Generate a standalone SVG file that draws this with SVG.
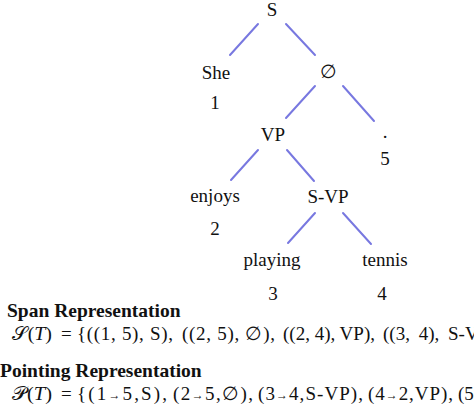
<svg xmlns="http://www.w3.org/2000/svg" width="474" height="408" viewBox="0 0 474 408">
<style>
.t{font-family:'Liberation Serif','DejaVu Serif',serif;font-size:19px;fill:#111;text-anchor:middle}
.h{font-family:'Liberation Serif','DejaVu Serif',serif;font-size:19.5px;font-weight:bold;fill:#111}
.m{font-family:'Liberation Serif','DejaVu Serif',serif;font-size:19px;fill:#111}
.a{font-size:12px}
.e{stroke:#7878e0;stroke-width:2;fill:none;stroke-linecap:round}
</style>
<rect width="474" height="408" fill="#fff"/>
<g id="edges">
<line class="e" x1="258" y1="24" x2="230" y2="55"/>
<line class="e" x1="286" y1="24" x2="315" y2="55"/>
<line class="e" x1="315" y1="86" x2="286" y2="118"/>
<line class="e" x1="343" y1="86" x2="374" y2="121"/>
<line class="e" x1="258" y1="150" x2="231" y2="180"/>
<line class="e" x1="287" y1="150" x2="314" y2="181"/>
<line class="e" x1="315" y1="213" x2="288" y2="243"/>
<line class="e" x1="343" y1="213" x2="371" y2="244"/>
</g>
<g id="n-S"><text class="t" x="272" y="16">S</text></g>
<g id="n-She"><text class="t" x="216" y="79">She</text><text class="t" x="215" y="109">1</text></g>
<g id="n-empty"><text class="t" x="328" y="78">∅</text></g>
<g id="n-VP"><text class="t" x="273" y="141">VP</text></g>
<g id="n-dot"><text class="t" x="385" y="138">.</text><text class="t" x="385" y="165">5</text></g>
<g id="n-enjoys"><text class="t" x="215" y="202">enjoys</text><text class="t" x="215" y="235">2</text></g>
<g id="n-SVP"><text class="t" x="328" y="203">S-VP</text></g>
<g id="n-playing"><text class="t" x="272" y="266">playing</text><text class="t" x="273" y="300">3</text></g>
<g id="n-tennis"><text class="t" x="385" y="266">tennis</text><text class="t" x="382" y="300">4</text></g>
<g id="span">
<text class="h" x="7" y="317">Span Representation</text>
<text class="m" x="12" y="340" textLength="40" lengthAdjust="spacingAndGlyphs">𝒮(<tspan font-style="italic">T</tspan>)</text>
<text class="m" x="61" y="340">=</text>
<text class="m" x="77" y="340" textLength="96" lengthAdjust="spacing">{((1, 5), S),</text>
<text class="m" x="182" y="340" textLength="93" lengthAdjust="spacing">((2, 5), ∅),</text>
<text class="m" x="283" y="340" textLength="92" lengthAdjust="spacing">((2, 4), VP),</text>
<text class="m" x="383" y="340" word-spacing="4">((3, 4), S-VP),</text>
</g>
<g id="pointing">
<text class="h" x="0" y="377">Pointing Representation</text>
<text class="m" x="12" y="400" textLength="40" lengthAdjust="spacingAndGlyphs">𝒫(<tspan font-style="italic">T</tspan>)</text>
<text class="m" x="61" y="400">=</text>
<text class="m" x="77" y="400" textLength="90" lengthAdjust="spacing">{(1<tspan class="a" dy="-1">→</tspan><tspan dy="1">5,S),</tspan></text>
<text class="m" x="173" y="400" textLength="80" lengthAdjust="spacing">(2<tspan class="a" dy="-1">→</tspan><tspan dy="1">5,∅),</tspan></text>
<text class="m" x="258" y="400" textLength="105" lengthAdjust="spacing">(3<tspan class="a" dy="-1">→</tspan><tspan dy="1">4,S-VP),</tspan></text>
<text class="m" x="368" y="400" textLength="85" lengthAdjust="spacing">(4<tspan class="a" dy="-1">→</tspan><tspan dy="1">2,VP),</tspan></text>
<text class="m" x="458" y="400">(5<tspan class="a" dy="-1">→</tspan></text>
</g>
</svg>
